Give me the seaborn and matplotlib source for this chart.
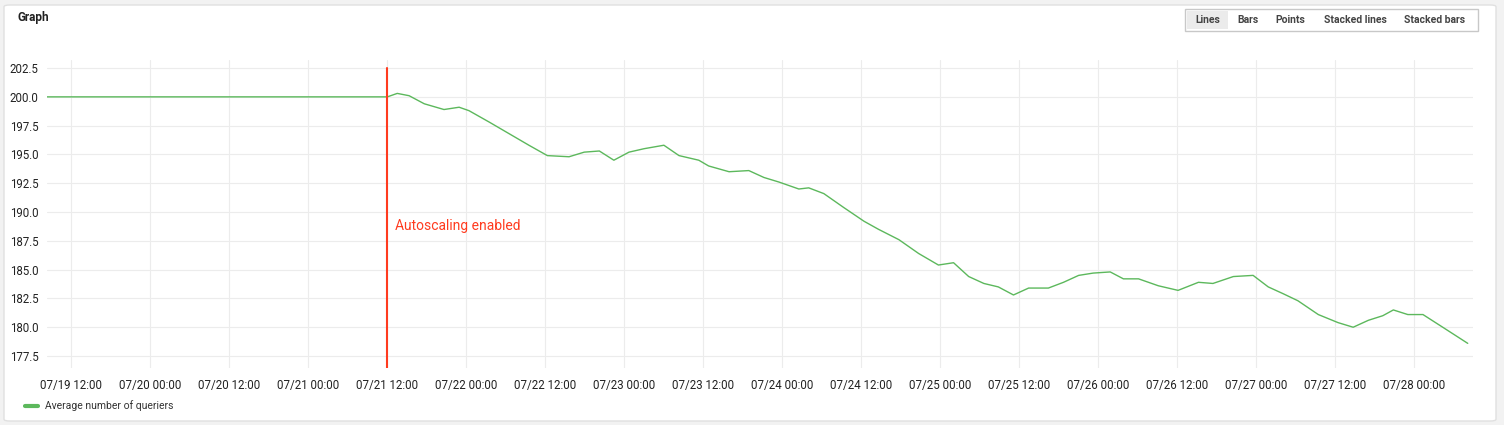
import matplotlib
matplotlib.use("Agg")
import matplotlib.pyplot as plt
import seaborn as sns
import pandas as pd
import numpy as np
from matplotlib.patches import FancyBboxPatch, Rectangle

sns.set_theme(style="white")
plt.rcParams['font.family'] = ['Roboto', 'DejaVu Sans']

# hours since 07/19 12:00
hours = [-3.6, 48.1, 49.6, 51.4, 53.7, 56.7, 59.0, 60.5, 63.6, 66.6, 69.6, 72.4, 75.7, 78.0, 80.3,
         82.5, 84.8, 87.1, 90.1, 92.4, 95.4, 96.9, 100.0, 103.0, 105.3, 107.6, 110.6, 112.1,
         114.4, 117.4, 120.5, 122.7, 125.8, 128.8, 131.8, 134.1, 136.4, 138.7, 140.9, 143.2,
         145.5, 148.5, 150.8, 153.1, 155.3, 157.9, 159.9, 162.2, 165.2, 168.2, 171.3, 173.5,
         176.6, 179.6, 181.9, 184.2, 186.4, 189.5, 192.5, 194.8, 197.1, 199.3, 200.9, 203.1,
         205.4, 208.4, 212.2]
values = [200.0, 200.0, 200.3, 200.1, 199.4, 198.9, 199.1, 198.8, 197.8, 196.8, 195.8, 194.9,
          194.8, 195.2, 195.3, 194.5, 195.2, 195.5, 195.8, 194.9, 194.5, 194.0, 193.5, 193.6,
          193.0, 192.6, 192.0, 192.1, 191.6, 190.4, 189.2, 188.5, 187.6, 186.4, 185.4, 185.6,
          184.4, 183.8, 183.5, 182.8, 183.4, 183.4, 183.9, 184.5, 184.7, 184.8, 184.2, 184.2,
          183.6, 183.2, 183.9, 183.8, 184.4, 184.5, 183.5, 182.9, 182.3, 181.1, 180.4, 180.0,
          180.6, 181.0, 181.5, 181.1, 181.1, 180.0, 178.6]
tick_labels = ["07/19 12:00", "07/20 00:00", "07/20 12:00", "07/21 00:00", "07/21 12:00",
               "07/22 00:00", "07/22 12:00", "07/23 00:00", "07/23 12:00", "07/24 00:00",
               "07/24 12:00", "07/25 00:00", "07/25 12:00", "07/26 00:00", "07/26 12:00",
               "07/27 00:00", "07/27 12:00", "07/28 00:00"]
yticks = [177.5, 180.0, 182.5, 185.0, 187.5, 190.0, 192.5, 195.0, 197.5, 200.0, 202.5]
event_hour = 48.0
series_name = "Average number of queriers"

W, H = 1504, 425
fig = plt.figure(figsize=(W/100, H/100), dpi=100)
fig.patch.set_facecolor("#f2f2f2")
card = FancyBboxPatch((4/W, 4/H), 1492/W, 416/H, boxstyle="round,pad=0,rounding_size=0.004",
                      transform=fig.transFigure, facecolor="white", edgecolor="#e0e0e0", lw=1,
                      zorder=-10)
fig.add_artist(card)

ax = fig.add_axes([47/W, 1-368/H, (1473-47)/W, (368-60)/H])
ax.set_facecolor("none")
df = pd.DataFrame({"h": hours, "v": values})
sns.lineplot(data=df, x="h", y="v", ax=ax, color="#5cb85c", lw=1)
ax.axvline(event_hour, ymax=0.974, color="#ff3b1f", lw=1.5)
ax.text(event_hour + 1.2, 188.8, "Autoscaling enabled", color="#ff3b1f", fontsize=10, va="center")

ax.set_xlim(-3.6, 213.0)
ax.set_ylim(176.46, 203.2)
ax.set_xticks([12*i for i in range(len(tick_labels))])
ax.set_xticklabels(tick_labels, fontsize=8.3, color="#222")
ax.set_yticks(yticks)
ax.set_yticklabels([f"{t:.1f}" for t in yticks], fontsize=8.3, color="#222")
ax.tick_params(axis="both", length=0, pad=8)
ax.tick_params(axis="y", pad=6)
ax.grid(True, color="#ececec", lw=0.8)
for s in ax.spines.values():
    s.set_visible(False)
ax.set_xlabel(""); ax.set_ylabel("")

fig.text(18/W, 1-18/H, "Graph", fontsize=8.5, fontweight="bold", va="center", color="#222")

# button group
fig.add_artist(Rectangle((1185/W, 1-31/H), (1478-1185)/W, 22/H, transform=fig.transFigure,
                         facecolor="white", edgecolor="#c8c8c8", lw=1))
fig.add_artist(Rectangle((1187/W, 1-29/H), (1228-1187)/W, 18/H, transform=fig.transFigure,
                         facecolor="#ebebeb", edgecolor="none"))
for lbl, x in [("Lines", 1208), ("Bars", 1248), ("Points", 1290), ("Stacked lines", 1355),
               ("Stacked bars", 1435)]:
    fig.text(x/W, 1-20/H, lbl, fontsize=7.5, fontweight="bold", color="#444",
             ha="center", va="center")

# legend
fig.add_artist(plt.Line2D([25/W, 38/W], [1-406/H, 1-406/H], transform=fig.transFigure,
                          color="#5cb85c", lw=3))
fig.text(45/W, 1-406/H, series_name, fontsize=7.5, color="#333", va="center")

fig.savefig("out.png", dpi=100, facecolor=fig.get_facecolor())
